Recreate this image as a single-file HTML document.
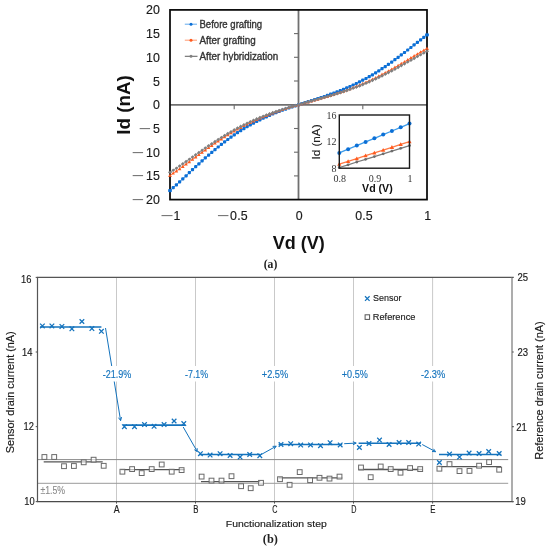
<!DOCTYPE html>
<html><head><meta charset="utf-8"><title>Figure</title>
<style>
html,body{margin:0;padding:0;background:#fff;}
body{width:549px;height:550px;overflow:hidden;}
svg{display:block;}
svg{fill:#1a1a1a;}
text{font-family:"Liberation Sans",sans-serif;}
.ser{font-family:"Liberation Serif",serif;}
#chartB text{stroke:#1a1a1a;stroke-width:0.15px;}
#chartB text.bl{stroke:#1473bd;}
#chartB text.gy{stroke:#8a8a8a;stroke-width:0.1px;}
#chartB text.ser{stroke:none;}
</style></head><body>
<svg width="549" height="550" viewBox="0 0 549 550">
<rect width="549" height="550" fill="#fff"/>

<g id="chartA">
<line x1="170.0" y1="104.8" x2="427.0" y2="104.8" stroke="#707070" stroke-width="1.8"/>
<line x1="298.5" y1="9.9" x2="298.5" y2="199.6" stroke="#707070" stroke-width="1.8"/>
<line x1="294.0" y1="33.6" x2="298.5" y2="33.6" stroke="#6b6b6b" stroke-width="1.1"/>
<line x1="294.0" y1="57.3" x2="298.5" y2="57.3" stroke="#6b6b6b" stroke-width="1.1"/>
<line x1="294.0" y1="81.0" x2="298.5" y2="81.0" stroke="#6b6b6b" stroke-width="1.1"/>
<line x1="294.0" y1="128.5" x2="298.5" y2="128.5" stroke="#6b6b6b" stroke-width="1.1"/>
<line x1="294.0" y1="152.2" x2="298.5" y2="152.2" stroke="#6b6b6b" stroke-width="1.1"/>
<line x1="294.0" y1="175.9" x2="298.5" y2="175.9" stroke="#6b6b6b" stroke-width="1.1"/>
<line x1="234.2" y1="104.8" x2="234.2" y2="109.2" stroke="#6b6b6b" stroke-width="1.1"/>
<line x1="362.8" y1="104.8" x2="362.8" y2="109.2" stroke="#6b6b6b" stroke-width="1.1"/>
<polyline points="170.0,190.6 173.2,187.7 176.4,184.8 179.6,181.8 182.8,178.8 186.1,175.8 189.3,172.7 192.5,169.7 195.7,166.7 198.9,163.8 202.1,160.8 205.3,157.9 208.6,155.1 211.8,152.3 215.0,149.6 218.2,147.0 221.4,144.4 224.6,141.9 227.8,139.5 231.0,137.2 234.2,134.9 237.5,132.7 240.7,130.6 243.9,128.6 247.1,126.7 250.3,124.9 253.5,123.1 256.7,121.4 259.9,119.8 263.2,118.2 266.4,116.8 269.6,115.3 272.8,114.0 276.0,112.7 279.2,111.4 282.4,110.2 285.6,109.1 288.9,108.0 292.1,106.9 295.3,105.8 298.5,104.8 301.7,103.7 304.9,102.7 308.1,101.7 311.4,100.7 314.6,99.6 317.8,98.6 321.0,97.6 324.2,96.5 327.4,95.4 330.6,94.2 333.8,93.1 337.1,91.9 340.3,90.6 343.5,89.3 346.7,87.9 349.9,86.5 353.1,85.0 356.3,83.5 359.5,81.9 362.8,80.2 366.0,78.5 369.2,76.6 372.4,74.8 375.6,72.8 378.8,70.8 382.0,68.7 385.2,66.6 388.4,64.3 391.7,62.1 394.9,59.7 398.1,57.4 401.3,54.9 404.5,52.5 407.7,50.0 410.9,47.5 414.1,44.9 417.4,42.4 420.6,39.8 423.8,37.3 427.0,34.8" fill="none" stroke="#0b6fd6" stroke-width="1" opacity="0.8"/>
<rect x="168.4" y="189.0" width="3.2" height="3.2" rx="1.0" fill="#0b6fd6"/>
<rect x="171.6" y="186.1" width="3.2" height="3.2" rx="1.0" fill="#0b6fd6"/>
<rect x="174.8" y="183.2" width="3.2" height="3.2" rx="1.0" fill="#0b6fd6"/>
<rect x="178.0" y="180.2" width="3.2" height="3.2" rx="1.0" fill="#0b6fd6"/>
<rect x="181.2" y="177.2" width="3.2" height="3.2" rx="1.0" fill="#0b6fd6"/>
<rect x="184.5" y="174.2" width="3.2" height="3.2" rx="1.0" fill="#0b6fd6"/>
<rect x="187.7" y="171.1" width="3.2" height="3.2" rx="1.0" fill="#0b6fd6"/>
<rect x="190.9" y="168.1" width="3.2" height="3.2" rx="1.0" fill="#0b6fd6"/>
<rect x="194.1" y="165.1" width="3.2" height="3.2" rx="1.0" fill="#0b6fd6"/>
<rect x="197.3" y="162.2" width="3.2" height="3.2" rx="1.0" fill="#0b6fd6"/>
<rect x="200.5" y="159.2" width="3.2" height="3.2" rx="1.0" fill="#0b6fd6"/>
<rect x="203.7" y="156.3" width="3.2" height="3.2" rx="1.0" fill="#0b6fd6"/>
<rect x="207.0" y="153.5" width="3.2" height="3.2" rx="1.0" fill="#0b6fd6"/>
<rect x="210.2" y="150.7" width="3.2" height="3.2" rx="1.0" fill="#0b6fd6"/>
<rect x="213.4" y="148.0" width="3.2" height="3.2" rx="1.0" fill="#0b6fd6"/>
<rect x="216.6" y="145.4" width="3.2" height="3.2" rx="1.0" fill="#0b6fd6"/>
<rect x="219.8" y="142.8" width="3.2" height="3.2" rx="1.0" fill="#0b6fd6"/>
<rect x="223.0" y="140.3" width="3.2" height="3.2" rx="1.0" fill="#0b6fd6"/>
<rect x="226.2" y="137.9" width="3.2" height="3.2" rx="1.0" fill="#0b6fd6"/>
<rect x="229.4" y="135.6" width="3.2" height="3.2" rx="1.0" fill="#0b6fd6"/>
<rect x="232.7" y="133.3" width="3.2" height="3.2" rx="1.0" fill="#0b6fd6"/>
<rect x="235.9" y="131.1" width="3.2" height="3.2" rx="1.0" fill="#0b6fd6"/>
<rect x="239.1" y="129.0" width="3.2" height="3.2" rx="1.0" fill="#0b6fd6"/>
<rect x="242.3" y="127.0" width="3.2" height="3.2" rx="1.0" fill="#0b6fd6"/>
<rect x="245.5" y="125.1" width="3.2" height="3.2" rx="1.0" fill="#0b6fd6"/>
<rect x="248.7" y="123.3" width="3.2" height="3.2" rx="1.0" fill="#0b6fd6"/>
<rect x="251.9" y="121.5" width="3.2" height="3.2" rx="1.0" fill="#0b6fd6"/>
<rect x="255.1" y="119.8" width="3.2" height="3.2" rx="1.0" fill="#0b6fd6"/>
<rect x="258.3" y="118.2" width="3.2" height="3.2" rx="1.0" fill="#0b6fd6"/>
<rect x="261.6" y="116.6" width="3.2" height="3.2" rx="1.0" fill="#0b6fd6"/>
<rect x="264.8" y="115.2" width="3.2" height="3.2" rx="1.0" fill="#0b6fd6"/>
<rect x="268.0" y="113.7" width="3.2" height="3.2" rx="1.0" fill="#0b6fd6"/>
<rect x="271.2" y="112.4" width="3.2" height="3.2" rx="1.0" fill="#0b6fd6"/>
<rect x="274.4" y="111.1" width="3.2" height="3.2" rx="1.0" fill="#0b6fd6"/>
<rect x="277.6" y="109.8" width="3.2" height="3.2" rx="1.0" fill="#0b6fd6"/>
<rect x="280.8" y="108.6" width="3.2" height="3.2" rx="1.0" fill="#0b6fd6"/>
<rect x="284.0" y="107.5" width="3.2" height="3.2" rx="1.0" fill="#0b6fd6"/>
<rect x="287.3" y="106.4" width="3.2" height="3.2" rx="1.0" fill="#0b6fd6"/>
<rect x="290.5" y="105.3" width="3.2" height="3.2" rx="1.0" fill="#0b6fd6"/>
<rect x="293.7" y="104.2" width="3.2" height="3.2" rx="1.0" fill="#0b6fd6"/>
<rect x="296.9" y="103.2" width="3.2" height="3.2" rx="1.0" fill="#0b6fd6"/>
<rect x="300.1" y="102.1" width="3.2" height="3.2" rx="1.0" fill="#0b6fd6"/>
<rect x="303.3" y="101.1" width="3.2" height="3.2" rx="1.0" fill="#0b6fd6"/>
<rect x="306.5" y="100.1" width="3.2" height="3.2" rx="1.0" fill="#0b6fd6"/>
<rect x="309.8" y="99.1" width="3.2" height="3.2" rx="1.0" fill="#0b6fd6"/>
<rect x="313.0" y="98.0" width="3.2" height="3.2" rx="1.0" fill="#0b6fd6"/>
<rect x="316.2" y="97.0" width="3.2" height="3.2" rx="1.0" fill="#0b6fd6"/>
<rect x="319.4" y="96.0" width="3.2" height="3.2" rx="1.0" fill="#0b6fd6"/>
<rect x="322.6" y="94.9" width="3.2" height="3.2" rx="1.0" fill="#0b6fd6"/>
<rect x="325.8" y="93.8" width="3.2" height="3.2" rx="1.0" fill="#0b6fd6"/>
<rect x="329.0" y="92.6" width="3.2" height="3.2" rx="1.0" fill="#0b6fd6"/>
<rect x="332.2" y="91.5" width="3.2" height="3.2" rx="1.0" fill="#0b6fd6"/>
<rect x="335.4" y="90.3" width="3.2" height="3.2" rx="1.0" fill="#0b6fd6"/>
<rect x="338.7" y="89.0" width="3.2" height="3.2" rx="1.0" fill="#0b6fd6"/>
<rect x="341.9" y="87.7" width="3.2" height="3.2" rx="1.0" fill="#0b6fd6"/>
<rect x="345.1" y="86.3" width="3.2" height="3.2" rx="1.0" fill="#0b6fd6"/>
<rect x="348.3" y="84.9" width="3.2" height="3.2" rx="1.0" fill="#0b6fd6"/>
<rect x="351.5" y="83.4" width="3.2" height="3.2" rx="1.0" fill="#0b6fd6"/>
<rect x="354.7" y="81.9" width="3.2" height="3.2" rx="1.0" fill="#0b6fd6"/>
<rect x="357.9" y="80.3" width="3.2" height="3.2" rx="1.0" fill="#0b6fd6"/>
<rect x="361.1" y="78.6" width="3.2" height="3.2" rx="1.0" fill="#0b6fd6"/>
<rect x="364.4" y="76.9" width="3.2" height="3.2" rx="1.0" fill="#0b6fd6"/>
<rect x="367.6" y="75.0" width="3.2" height="3.2" rx="1.0" fill="#0b6fd6"/>
<rect x="370.8" y="73.2" width="3.2" height="3.2" rx="1.0" fill="#0b6fd6"/>
<rect x="374.0" y="71.2" width="3.2" height="3.2" rx="1.0" fill="#0b6fd6"/>
<rect x="377.2" y="69.2" width="3.2" height="3.2" rx="1.0" fill="#0b6fd6"/>
<rect x="380.4" y="67.1" width="3.2" height="3.2" rx="1.0" fill="#0b6fd6"/>
<rect x="383.6" y="65.0" width="3.2" height="3.2" rx="1.0" fill="#0b6fd6"/>
<rect x="386.8" y="62.7" width="3.2" height="3.2" rx="1.0" fill="#0b6fd6"/>
<rect x="390.1" y="60.5" width="3.2" height="3.2" rx="1.0" fill="#0b6fd6"/>
<rect x="393.3" y="58.1" width="3.2" height="3.2" rx="1.0" fill="#0b6fd6"/>
<rect x="396.5" y="55.8" width="3.2" height="3.2" rx="1.0" fill="#0b6fd6"/>
<rect x="399.7" y="53.3" width="3.2" height="3.2" rx="1.0" fill="#0b6fd6"/>
<rect x="402.9" y="50.9" width="3.2" height="3.2" rx="1.0" fill="#0b6fd6"/>
<rect x="406.1" y="48.4" width="3.2" height="3.2" rx="1.0" fill="#0b6fd6"/>
<rect x="409.3" y="45.9" width="3.2" height="3.2" rx="1.0" fill="#0b6fd6"/>
<rect x="412.5" y="43.3" width="3.2" height="3.2" rx="1.0" fill="#0b6fd6"/>
<rect x="415.8" y="40.8" width="3.2" height="3.2" rx="1.0" fill="#0b6fd6"/>
<rect x="419.0" y="38.2" width="3.2" height="3.2" rx="1.0" fill="#0b6fd6"/>
<rect x="422.2" y="35.7" width="3.2" height="3.2" rx="1.0" fill="#0b6fd6"/>
<rect x="425.4" y="33.2" width="3.2" height="3.2" rx="1.0" fill="#0b6fd6"/>
<polyline points="170.0,175.4 173.2,173.2 176.4,171.0 179.6,168.7 182.8,166.4 186.1,164.1 189.3,161.7 192.5,159.4 195.7,157.0 198.9,154.6 202.1,152.3 205.3,150.0 208.6,147.7 211.8,145.4 215.0,143.2 218.2,141.1 221.4,138.9 224.6,136.9 227.8,134.9 231.0,132.9 234.2,131.0 237.5,129.2 240.7,127.4 243.9,125.7 247.1,124.1 250.3,122.5 253.5,121.0 256.7,119.5 259.9,118.1 263.2,116.8 266.4,115.5 269.6,114.2 272.8,113.0 276.0,111.9 279.2,110.7 282.4,109.7 285.6,108.6 288.9,107.6 292.1,106.6 295.3,105.7 298.5,104.8 301.7,103.8 304.9,102.9 308.1,102.0 311.4,101.1 314.6,100.2 317.8,99.3 321.0,98.3 324.2,97.4 327.4,96.4 330.6,95.5 333.8,94.5 337.1,93.4 340.3,92.3 343.5,91.2 346.7,90.1 349.9,88.9 353.1,87.7 356.3,86.4 359.5,85.1 362.8,83.7 366.0,82.3 369.2,80.8 372.4,79.3 375.6,77.8 378.8,76.1 382.0,74.5 385.2,72.8 388.4,71.0 391.7,69.2 394.9,67.4 398.1,65.6 401.3,63.7 404.5,61.8 407.7,59.9 410.9,57.9 414.1,56.0 417.4,54.1 420.6,52.1 423.8,50.3 427.0,48.4" fill="none" stroke="#ff5a1e" stroke-width="1" opacity="0.8"/>
<path d="M168.3 176.8L171.7 176.8L170.0 173.5Z" fill="#ff5a1e"/>
<path d="M171.5 174.6L174.9 174.6L173.2 171.3Z" fill="#ff5a1e"/>
<path d="M174.7 172.4L178.2 172.4L176.4 169.1Z" fill="#ff5a1e"/>
<path d="M177.9 170.2L181.4 170.2L179.6 166.9Z" fill="#ff5a1e"/>
<path d="M181.1 167.9L184.6 167.9L182.8 164.6Z" fill="#ff5a1e"/>
<path d="M184.3 165.5L187.8 165.5L186.1 162.2Z" fill="#ff5a1e"/>
<path d="M187.6 163.2L191.0 163.2L189.3 159.9Z" fill="#ff5a1e"/>
<path d="M190.8 160.8L194.2 160.8L192.5 157.5Z" fill="#ff5a1e"/>
<path d="M194.0 158.4L197.4 158.4L195.7 155.1Z" fill="#ff5a1e"/>
<path d="M197.2 156.1L200.6 156.1L198.9 152.8Z" fill="#ff5a1e"/>
<path d="M200.4 153.7L203.8 153.7L202.1 150.4Z" fill="#ff5a1e"/>
<path d="M203.6 151.4L207.1 151.4L205.3 148.1Z" fill="#ff5a1e"/>
<path d="M206.8 149.1L210.3 149.1L208.6 145.8Z" fill="#ff5a1e"/>
<path d="M210.0 146.9L213.5 146.9L211.8 143.6Z" fill="#ff5a1e"/>
<path d="M213.2 144.6L216.7 144.6L215.0 141.3Z" fill="#ff5a1e"/>
<path d="M216.5 142.5L219.9 142.5L218.2 139.2Z" fill="#ff5a1e"/>
<path d="M219.7 140.4L223.1 140.4L221.4 137.1Z" fill="#ff5a1e"/>
<path d="M222.9 138.3L226.3 138.3L224.6 135.0Z" fill="#ff5a1e"/>
<path d="M226.1 136.3L229.5 136.3L227.8 133.0Z" fill="#ff5a1e"/>
<path d="M229.3 134.3L232.8 134.3L231.0 131.0Z" fill="#ff5a1e"/>
<path d="M232.5 132.4L236.0 132.4L234.2 129.1Z" fill="#ff5a1e"/>
<path d="M235.7 130.6L239.2 130.6L237.5 127.3Z" fill="#ff5a1e"/>
<path d="M239.0 128.9L242.4 128.9L240.7 125.6Z" fill="#ff5a1e"/>
<path d="M242.2 127.1L245.6 127.1L243.9 123.8Z" fill="#ff5a1e"/>
<path d="M245.4 125.5L248.8 125.5L247.1 122.2Z" fill="#ff5a1e"/>
<path d="M248.6 123.9L252.0 123.9L250.3 120.6Z" fill="#ff5a1e"/>
<path d="M251.8 122.4L255.2 122.4L253.5 119.1Z" fill="#ff5a1e"/>
<path d="M255.0 120.9L258.5 120.9L256.7 117.6Z" fill="#ff5a1e"/>
<path d="M258.2 119.5L261.7 119.5L259.9 116.2Z" fill="#ff5a1e"/>
<path d="M261.4 118.2L264.9 118.2L263.2 114.9Z" fill="#ff5a1e"/>
<path d="M264.6 116.9L268.1 116.9L266.4 113.6Z" fill="#ff5a1e"/>
<path d="M267.9 115.6L271.3 115.6L269.6 112.3Z" fill="#ff5a1e"/>
<path d="M271.1 114.4L274.5 114.4L272.8 111.1Z" fill="#ff5a1e"/>
<path d="M274.3 113.3L277.7 113.3L276.0 110.0Z" fill="#ff5a1e"/>
<path d="M277.5 112.2L281.0 112.2L279.2 108.9Z" fill="#ff5a1e"/>
<path d="M280.7 111.1L284.2 111.1L282.4 107.8Z" fill="#ff5a1e"/>
<path d="M283.9 110.1L287.4 110.1L285.6 106.8Z" fill="#ff5a1e"/>
<path d="M287.1 109.1L290.6 109.1L288.9 105.8Z" fill="#ff5a1e"/>
<path d="M290.3 108.1L293.8 108.1L292.1 104.8Z" fill="#ff5a1e"/>
<path d="M293.6 107.1L297.0 107.1L295.3 103.8Z" fill="#ff5a1e"/>
<path d="M296.8 106.2L300.2 106.2L298.5 102.9Z" fill="#ff5a1e"/>
<path d="M300.0 105.2L303.4 105.2L301.7 101.9Z" fill="#ff5a1e"/>
<path d="M303.2 104.3L306.7 104.3L304.9 101.0Z" fill="#ff5a1e"/>
<path d="M306.4 103.4L309.9 103.4L308.1 100.1Z" fill="#ff5a1e"/>
<path d="M309.6 102.5L313.1 102.5L311.4 99.2Z" fill="#ff5a1e"/>
<path d="M312.8 101.6L316.3 101.6L314.6 98.3Z" fill="#ff5a1e"/>
<path d="M316.0 100.7L319.5 100.7L317.8 97.4Z" fill="#ff5a1e"/>
<path d="M319.3 99.8L322.7 99.8L321.0 96.5Z" fill="#ff5a1e"/>
<path d="M322.5 98.8L325.9 98.8L324.2 95.5Z" fill="#ff5a1e"/>
<path d="M325.7 97.9L329.1 97.9L327.4 94.6Z" fill="#ff5a1e"/>
<path d="M328.9 96.9L332.4 96.9L330.6 93.6Z" fill="#ff5a1e"/>
<path d="M332.1 95.9L335.6 95.9L333.8 92.6Z" fill="#ff5a1e"/>
<path d="M335.3 94.8L338.8 94.8L337.1 91.5Z" fill="#ff5a1e"/>
<path d="M338.5 93.8L342.0 93.8L340.3 90.5Z" fill="#ff5a1e"/>
<path d="M341.8 92.7L345.2 92.7L343.5 89.4Z" fill="#ff5a1e"/>
<path d="M345.0 91.5L348.4 91.5L346.7 88.2Z" fill="#ff5a1e"/>
<path d="M348.2 90.3L351.6 90.3L349.9 87.0Z" fill="#ff5a1e"/>
<path d="M351.4 89.1L354.8 89.1L353.1 85.8Z" fill="#ff5a1e"/>
<path d="M354.6 87.8L358.1 87.8L356.3 84.5Z" fill="#ff5a1e"/>
<path d="M357.8 86.5L361.3 86.5L359.5 83.2Z" fill="#ff5a1e"/>
<path d="M361.0 85.1L364.5 85.1L362.8 81.8Z" fill="#ff5a1e"/>
<path d="M364.2 83.7L367.7 83.7L366.0 80.4Z" fill="#ff5a1e"/>
<path d="M367.4 82.3L370.9 82.3L369.2 79.0Z" fill="#ff5a1e"/>
<path d="M370.7 80.7L374.1 80.7L372.4 77.4Z" fill="#ff5a1e"/>
<path d="M373.9 79.2L377.3 79.2L375.6 75.9Z" fill="#ff5a1e"/>
<path d="M377.1 77.6L380.5 77.6L378.8 74.3Z" fill="#ff5a1e"/>
<path d="M380.3 75.9L383.8 75.9L382.0 72.6Z" fill="#ff5a1e"/>
<path d="M383.5 74.2L387.0 74.2L385.2 70.9Z" fill="#ff5a1e"/>
<path d="M386.7 72.5L390.2 72.5L388.4 69.2Z" fill="#ff5a1e"/>
<path d="M389.9 70.7L393.4 70.7L391.7 67.4Z" fill="#ff5a1e"/>
<path d="M393.1 68.8L396.6 68.8L394.9 65.5Z" fill="#ff5a1e"/>
<path d="M396.4 67.0L399.8 67.0L398.1 63.7Z" fill="#ff5a1e"/>
<path d="M399.6 65.1L403.0 65.1L401.3 61.8Z" fill="#ff5a1e"/>
<path d="M402.8 63.2L406.2 63.2L404.5 59.9Z" fill="#ff5a1e"/>
<path d="M406.0 61.3L409.5 61.3L407.7 58.0Z" fill="#ff5a1e"/>
<path d="M409.2 59.3L412.7 59.3L410.9 56.0Z" fill="#ff5a1e"/>
<path d="M412.4 57.4L415.9 57.4L414.1 54.1Z" fill="#ff5a1e"/>
<path d="M415.6 55.5L419.1 55.5L417.4 52.2Z" fill="#ff5a1e"/>
<path d="M418.8 53.6L422.3 53.6L420.6 50.3Z" fill="#ff5a1e"/>
<path d="M422.1 51.7L425.5 51.7L423.8 48.4Z" fill="#ff5a1e"/>
<path d="M425.3 49.8L428.7 49.8L427.0 46.5Z" fill="#ff5a1e"/>
<polyline points="170.0,172.3 173.2,170.3 176.4,168.2 179.6,166.0 182.8,163.8 186.1,161.5 189.3,159.3 192.5,157.0 195.7,154.8 198.9,152.5 202.1,150.3 205.3,148.0 208.6,145.8 211.8,143.7 215.0,141.6 218.2,139.5 221.4,137.5 224.6,135.5 227.8,133.6 231.0,131.7 234.2,129.9 237.5,128.1 240.7,126.5 243.9,124.8 247.1,123.2 250.3,121.7 253.5,120.3 256.7,118.9 259.9,117.5 263.2,116.2 266.4,115.0 269.6,113.8 272.8,112.7 276.0,111.6 279.2,110.5 282.4,109.5 285.6,108.5 288.9,107.5 292.1,106.6 295.3,105.6 298.5,104.8 301.7,103.8 304.9,102.8 308.1,101.9 311.4,101.0 314.6,100.1 317.8,99.2 321.0,98.3 324.2,97.4 327.4,96.5 330.6,95.6 333.8,94.7 337.1,93.7 340.3,92.7 343.5,91.6 346.7,90.6 349.9,89.4 353.1,88.3 356.3,87.1 359.5,85.9 362.8,84.6 366.0,83.2 369.2,81.8 372.4,80.4 375.6,78.9 378.8,77.4 382.0,75.9 385.2,74.2 388.4,72.6 391.7,70.9 394.9,69.2 398.1,67.4 401.3,65.6 404.5,63.8 407.7,62.0 410.9,60.2 414.1,58.4 417.4,56.5 420.6,54.7 423.8,52.9 427.0,51.2" fill="none" stroke="#808080" stroke-width="1" opacity="0.8"/>
<path d="M168.2 172.3L170.0 170.5L171.8 172.3L170.0 174.1Z" fill="#808080"/>
<path d="M171.4 170.3L173.2 168.5L175.0 170.3L173.2 172.1Z" fill="#808080"/>
<path d="M174.6 168.2L176.4 166.4L178.2 168.2L176.4 170.0Z" fill="#808080"/>
<path d="M177.8 166.0L179.6 164.2L181.4 166.0L179.6 167.8Z" fill="#808080"/>
<path d="M181.0 163.8L182.8 162.0L184.7 163.8L182.8 165.6Z" fill="#808080"/>
<path d="M184.2 161.5L186.1 159.7L187.9 161.5L186.1 163.4Z" fill="#808080"/>
<path d="M187.5 159.3L189.3 157.5L191.1 159.3L189.3 161.1Z" fill="#808080"/>
<path d="M190.7 157.0L192.5 155.2L194.3 157.0L192.5 158.8Z" fill="#808080"/>
<path d="M193.9 154.8L195.7 152.9L197.5 154.8L195.7 156.6Z" fill="#808080"/>
<path d="M197.1 152.5L198.9 150.7L200.7 152.5L198.9 154.3Z" fill="#808080"/>
<path d="M200.3 150.3L202.1 148.4L203.9 150.3L202.1 152.1Z" fill="#808080"/>
<path d="M203.5 148.0L205.3 146.2L207.2 148.0L205.3 149.8Z" fill="#808080"/>
<path d="M206.7 145.8L208.6 144.0L210.4 145.8L208.6 147.7Z" fill="#808080"/>
<path d="M209.9 143.7L211.8 141.9L213.6 143.7L211.8 145.5Z" fill="#808080"/>
<path d="M213.2 141.6L215.0 139.8L216.8 141.6L215.0 143.4Z" fill="#808080"/>
<path d="M216.4 139.5L218.2 137.7L220.0 139.5L218.2 141.3Z" fill="#808080"/>
<path d="M219.6 137.5L221.4 135.7L223.2 137.5L221.4 139.3Z" fill="#808080"/>
<path d="M222.8 135.5L224.6 133.7L226.4 135.5L224.6 137.3Z" fill="#808080"/>
<path d="M226.0 133.6L227.8 131.8L229.6 133.6L227.8 135.4Z" fill="#808080"/>
<path d="M229.2 131.7L231.0 129.9L232.8 131.7L231.0 133.5Z" fill="#808080"/>
<path d="M232.4 129.9L234.2 128.1L236.1 129.9L234.2 131.7Z" fill="#808080"/>
<path d="M235.7 128.1L237.5 126.3L239.3 128.1L237.5 130.0Z" fill="#808080"/>
<path d="M238.9 126.5L240.7 124.6L242.5 126.5L240.7 128.3Z" fill="#808080"/>
<path d="M242.1 124.8L243.9 123.0L245.7 124.8L243.9 126.6Z" fill="#808080"/>
<path d="M245.3 123.2L247.1 121.4L248.9 123.2L247.1 125.1Z" fill="#808080"/>
<path d="M248.5 121.7L250.3 119.9L252.1 121.7L250.3 123.5Z" fill="#808080"/>
<path d="M251.7 120.3L253.5 118.5L255.3 120.3L253.5 122.1Z" fill="#808080"/>
<path d="M254.9 118.9L256.7 117.1L258.6 118.9L256.7 120.7Z" fill="#808080"/>
<path d="M258.1 117.5L259.9 115.7L261.8 117.5L259.9 119.3Z" fill="#808080"/>
<path d="M261.4 116.2L263.2 114.4L265.0 116.2L263.2 118.0Z" fill="#808080"/>
<path d="M264.6 115.0L266.4 113.2L268.2 115.0L266.4 116.8Z" fill="#808080"/>
<path d="M267.8 113.8L269.6 112.0L271.4 113.8L269.6 115.6Z" fill="#808080"/>
<path d="M271.0 112.7L272.8 110.8L274.6 112.7L272.8 114.5Z" fill="#808080"/>
<path d="M274.2 111.6L276.0 109.7L277.8 111.6L276.0 113.4Z" fill="#808080"/>
<path d="M277.4 110.5L279.2 108.7L281.0 110.5L279.2 112.3Z" fill="#808080"/>
<path d="M280.6 109.5L282.4 107.7L284.2 109.5L282.4 111.3Z" fill="#808080"/>
<path d="M283.8 108.5L285.6 106.7L287.5 108.5L285.6 110.3Z" fill="#808080"/>
<path d="M287.1 107.5L288.9 105.7L290.7 107.5L288.9 109.3Z" fill="#808080"/>
<path d="M290.3 106.6L292.1 104.8L293.9 106.6L292.1 108.4Z" fill="#808080"/>
<path d="M293.5 105.6L295.3 103.8L297.1 105.6L295.3 107.5Z" fill="#808080"/>
<path d="M296.7 104.8L298.5 102.9L300.3 104.8L298.5 106.6Z" fill="#808080"/>
<path d="M299.9 103.8L301.7 102.0L303.5 103.8L301.7 105.6Z" fill="#808080"/>
<path d="M303.1 102.8L304.9 101.0L306.7 102.8L304.9 104.6Z" fill="#808080"/>
<path d="M306.3 101.9L308.1 100.1L309.9 101.9L308.1 103.7Z" fill="#808080"/>
<path d="M309.5 101.0L311.4 99.2L313.2 101.0L311.4 102.8Z" fill="#808080"/>
<path d="M312.8 100.1L314.6 98.3L316.4 100.1L314.6 101.9Z" fill="#808080"/>
<path d="M316.0 99.2L317.8 97.4L319.6 99.2L317.8 101.0Z" fill="#808080"/>
<path d="M319.2 98.3L321.0 96.5L322.8 98.3L321.0 100.2Z" fill="#808080"/>
<path d="M322.4 97.4L324.2 95.6L326.0 97.4L324.2 99.3Z" fill="#808080"/>
<path d="M325.6 96.5L327.4 94.7L329.2 96.5L327.4 98.3Z" fill="#808080"/>
<path d="M328.8 95.6L330.6 93.8L332.4 95.6L330.6 97.4Z" fill="#808080"/>
<path d="M332.0 94.7L333.8 92.8L335.6 94.7L333.8 96.5Z" fill="#808080"/>
<path d="M335.2 93.7L337.1 91.9L338.9 93.7L337.1 95.5Z" fill="#808080"/>
<path d="M338.4 92.7L340.3 90.9L342.1 92.7L340.3 94.5Z" fill="#808080"/>
<path d="M341.7 91.6L343.5 89.8L345.3 91.6L343.5 93.4Z" fill="#808080"/>
<path d="M344.9 90.6L346.7 88.7L348.5 90.6L346.7 92.4Z" fill="#808080"/>
<path d="M348.1 89.4L349.9 87.6L351.7 89.4L349.9 91.3Z" fill="#808080"/>
<path d="M351.3 88.3L353.1 86.5L354.9 88.3L353.1 90.1Z" fill="#808080"/>
<path d="M354.5 87.1L356.3 85.3L358.1 87.1L356.3 88.9Z" fill="#808080"/>
<path d="M357.7 85.9L359.5 84.0L361.4 85.9L359.5 87.7Z" fill="#808080"/>
<path d="M360.9 84.6L362.8 82.8L364.6 84.6L362.8 86.4Z" fill="#808080"/>
<path d="M364.1 83.2L366.0 81.4L367.8 83.2L366.0 85.0Z" fill="#808080"/>
<path d="M367.4 81.8L369.2 80.0L371.0 81.8L369.2 83.7Z" fill="#808080"/>
<path d="M370.6 80.4L372.4 78.6L374.2 80.4L372.4 82.2Z" fill="#808080"/>
<path d="M373.8 78.9L375.6 77.1L377.4 78.9L375.6 80.8Z" fill="#808080"/>
<path d="M377.0 77.4L378.8 75.6L380.6 77.4L378.8 79.2Z" fill="#808080"/>
<path d="M380.2 75.9L382.0 74.0L383.8 75.9L382.0 77.7Z" fill="#808080"/>
<path d="M383.4 74.2L385.2 72.4L387.1 74.2L385.2 76.1Z" fill="#808080"/>
<path d="M386.6 72.6L388.4 70.8L390.3 72.6L388.4 74.4Z" fill="#808080"/>
<path d="M389.9 70.9L391.7 69.1L393.5 70.9L391.7 72.7Z" fill="#808080"/>
<path d="M393.1 69.2L394.9 67.4L396.7 69.2L394.9 71.0Z" fill="#808080"/>
<path d="M396.3 67.4L398.1 65.6L399.9 67.4L398.1 69.2Z" fill="#808080"/>
<path d="M399.5 65.6L401.3 63.8L403.1 65.6L401.3 67.5Z" fill="#808080"/>
<path d="M402.7 63.8L404.5 62.0L406.3 63.8L404.5 65.7Z" fill="#808080"/>
<path d="M405.9 62.0L407.7 60.2L409.5 62.0L407.7 63.8Z" fill="#808080"/>
<path d="M409.1 60.2L410.9 58.4L412.8 60.2L410.9 62.0Z" fill="#808080"/>
<path d="M412.3 58.4L414.1 56.5L416.0 58.4L414.1 60.2Z" fill="#808080"/>
<path d="M415.6 56.5L417.4 54.7L419.2 56.5L417.4 58.3Z" fill="#808080"/>
<path d="M418.8 54.7L420.6 52.9L422.4 54.7L420.6 56.5Z" fill="#808080"/>
<path d="M422.0 52.9L423.8 51.1L425.6 52.9L423.8 54.7Z" fill="#808080"/>
<path d="M425.2 51.2L427.0 49.4L428.8 51.2L427.0 53.0Z" fill="#808080"/>
<rect x="170.0" y="9.9" width="257.0" height="189.7" fill="none" stroke="#0a0a0a" stroke-width="1.75"/>
<rect x="168.4" y="189.0" width="3.2" height="3.2" rx="1.0" fill="#0b6fd6"/>
<rect x="425.4" y="33.2" width="3.2" height="3.2" rx="1.0" fill="#0b6fd6"/>
<path d="M168.3 176.8L171.7 176.8L170.0 173.5Z" fill="#ff5a1e"/>
<path d="M425.3 49.8L428.7 49.8L427.0 46.5Z" fill="#ff5a1e"/>
<path d="M168.2 172.3L170.0 170.5L171.8 172.3L170.0 174.1Z" fill="#808080"/>
<path d="M425.2 51.2L427.0 49.4L428.8 51.2L427.0 53.0Z" fill="#808080"/>
<text x="159.8" y="14.4" font-size="12.4" text-anchor="end" stroke="#1a1a1a" stroke-width="0.15">20</text>
<text x="159.8" y="38.1" font-size="12.4" text-anchor="end" stroke="#1a1a1a" stroke-width="0.15">15</text>
<text x="159.8" y="61.8" font-size="12.4" text-anchor="end" stroke="#1a1a1a" stroke-width="0.15">10</text>
<text x="159.8" y="85.5" font-size="12.4" text-anchor="end" stroke="#1a1a1a" stroke-width="0.15">5</text>
<text x="159.8" y="109.2" font-size="12.4" text-anchor="end" stroke="#1a1a1a" stroke-width="0.15">0</text>
<text x="159.8" y="133.0" font-size="12.4" text-anchor="end" stroke="#1a1a1a" stroke-width="0.15">5</text>
<text transform="translate(138.25,133.0) scale(1.726,1)" font-size="12.4" fill="#555">−</text>
<text x="159.8" y="156.7" font-size="12.4" text-anchor="end" stroke="#1a1a1a" stroke-width="0.15">10</text>
<text transform="translate(131.35,156.7) scale(1.726,1)" font-size="12.4" fill="#555">−</text>
<text x="159.8" y="180.4" font-size="12.4" text-anchor="end" stroke="#1a1a1a" stroke-width="0.15">15</text>
<text transform="translate(131.35,180.4) scale(1.726,1)" font-size="12.4" fill="#555">−</text>
<text x="159.8" y="204.1" font-size="12.4" text-anchor="end" stroke="#1a1a1a" stroke-width="0.15">20</text>
<text transform="translate(131.35,204.1) scale(1.726,1)" font-size="12.4" fill="#555">−</text>
<text transform="translate(159.89,219.8) scale(1.825,1)" font-size="12.4" fill="#555">−</text>
<text x="173.4" y="219.8" font-size="12.4" stroke="#1a1a1a" stroke-width="0.15">1</text>
<text transform="translate(216.44,219.8) scale(1.742,1)" font-size="12.4" fill="#555">−</text>
<text x="230.1" y="219.8" font-size="12.4" stroke="#1a1a1a" stroke-width="0.15" letter-spacing="0.15">0.5</text>
<text x="299.2" y="219.8" font-size="12.4" text-anchor="middle" stroke="#1a1a1a" stroke-width="0.15">0</text>
<text x="355.2" y="219.8" font-size="12.4" stroke="#1a1a1a" stroke-width="0.15" letter-spacing="0.15">0.5</text>
<text x="427.6" y="219.8" font-size="12.4" text-anchor="middle" stroke="#1a1a1a" stroke-width="0.15">1</text>
<text x="298.7" y="248.8" font-size="18" font-weight="bold" text-anchor="middle" fill="#111">Vd (V)</text>
<text transform="translate(130.2,105) rotate(-90)" font-size="18.8" font-weight="bold" text-anchor="middle" fill="#111">Id (nA)</text>
<line x1="184.8" y1="24.2" x2="197" y2="24.2" stroke="#6fb1ee" stroke-width="1.1"/>
<circle cx="191" cy="24.2" r="1.5" fill="#0b6fd6"/>
<text x="199.5" y="27.8" font-size="10" textLength="62.7" lengthAdjust="spacingAndGlyphs" fill="#333" stroke="#333" stroke-width="0.35">Before grafting</text>
<line x1="184.8" y1="40.2" x2="197" y2="40.2" stroke="#ffa27d" stroke-width="1.1"/>
<circle cx="191" cy="40.2" r="1.5" fill="#ff5a1e"/>
<text x="199.5" y="43.8" font-size="10" textLength="56.2" lengthAdjust="spacingAndGlyphs" fill="#333" stroke="#333" stroke-width="0.35">After grafting</text>
<line x1="184.8" y1="56.3" x2="197.5" y2="56.3" stroke="#6a6a6a" stroke-width="1.1"/>
<circle cx="191" cy="56.3" r="1.5" fill="#808080"/>
<text x="199.5" y="59.9" font-size="10" textLength="78.7" lengthAdjust="spacingAndGlyphs" fill="#333" stroke="#333" stroke-width="0.35">After hybridization</text>
<rect x="308" y="110" width="114" height="87" fill="#fff"/>
<polyline points="339.3,167.5 348.1,164.8 356.8,162.0 365.6,159.3 374.4,156.6 383.2,153.8 391.9,151.1 400.7,148.3 409.5,145.6" fill="none" stroke="#7a7a7a" stroke-width="1.3"/>
<circle cx="339.3" cy="167.5" r="1.4" fill="#6e6e6e"/>
<circle cx="348.1" cy="164.8" r="1.4" fill="#6e6e6e"/>
<circle cx="356.8" cy="162.0" r="1.4" fill="#6e6e6e"/>
<circle cx="365.6" cy="159.3" r="1.4" fill="#6e6e6e"/>
<circle cx="374.4" cy="156.6" r="1.4" fill="#6e6e6e"/>
<circle cx="383.2" cy="153.8" r="1.4" fill="#6e6e6e"/>
<circle cx="391.9" cy="151.1" r="1.4" fill="#6e6e6e"/>
<circle cx="400.7" cy="148.3" r="1.4" fill="#6e6e6e"/>
<circle cx="409.5" cy="145.6" r="1.4" fill="#6e6e6e"/>
<polyline points="339.3,164.2 348.1,161.4 356.8,158.6 365.6,155.7 374.4,152.9 383.2,150.1 391.9,147.3 400.7,144.4 409.5,141.6" fill="none" stroke="#ff7a45" stroke-width="1.3"/>
<path d="M337.2 165.8L341.4 165.8L339.3 162.0Z" fill="#ff5a1e"/>
<path d="M346.0 163.0L350.2 163.0L348.1 159.2Z" fill="#ff5a1e"/>
<path d="M354.7 160.2L358.9 160.2L356.8 156.4Z" fill="#ff5a1e"/>
<path d="M363.5 157.3L367.7 157.3L365.6 153.5Z" fill="#ff5a1e"/>
<path d="M372.3 154.5L376.5 154.5L374.4 150.7Z" fill="#ff5a1e"/>
<path d="M381.1 151.7L385.3 151.7L383.2 147.9Z" fill="#ff5a1e"/>
<path d="M389.8 148.9L394.1 148.9L391.9 145.1Z" fill="#ff5a1e"/>
<path d="M398.6 146.0L402.8 146.0L400.7 142.2Z" fill="#ff5a1e"/>
<path d="M407.4 143.2L411.6 143.2L409.5 139.4Z" fill="#ff5a1e"/>
<polyline points="339.3,152.9 348.1,149.2 356.8,145.6 365.6,141.9 374.4,138.3 383.2,134.6 391.9,131.0 400.7,127.3 409.5,123.6" fill="none" stroke="#3d9be9" stroke-width="1.3"/>
<circle cx="339.3" cy="152.9" r="2.0" fill="#0b6fd6"/>
<circle cx="348.1" cy="149.2" r="2.0" fill="#0b6fd6"/>
<circle cx="356.8" cy="145.6" r="2.0" fill="#0b6fd6"/>
<circle cx="365.6" cy="141.9" r="2.0" fill="#0b6fd6"/>
<circle cx="374.4" cy="138.3" r="2.0" fill="#0b6fd6"/>
<circle cx="383.2" cy="134.6" r="2.0" fill="#0b6fd6"/>
<circle cx="391.9" cy="131.0" r="2.0" fill="#0b6fd6"/>
<circle cx="400.7" cy="127.3" r="2.0" fill="#0b6fd6"/>
<circle cx="409.5" cy="123.6" r="2.0" fill="#0b6fd6"/>
<rect x="339.3" y="115.0" width="70.2" height="53.2" fill="none" stroke="#1a1a1a" stroke-width="1.4"/>
<text class="ser" x="336.4" y="118.6" font-size="10" text-anchor="end" fill="#333">16</text>
<text class="ser" x="336.4" y="145.2" font-size="10" text-anchor="end" fill="#333">12</text>
<text class="ser" x="336.4" y="171.8" font-size="10" text-anchor="end" fill="#333">8</text>
<text class="ser" x="339.8" y="181.5" font-size="10" text-anchor="middle" fill="#333">0.8</text>
<text class="ser" x="374.9" y="181.5" font-size="10" text-anchor="middle" fill="#333">0.9</text>
<text class="ser" x="410.0" y="181.5" font-size="10" text-anchor="middle" fill="#333">1</text>
<text x="377.4" y="192.3" font-size="10.6" font-weight="bold" text-anchor="middle" fill="#111">Vd (V)</text>
<text transform="translate(320.3,142) rotate(-90)" font-size="11.7" text-anchor="middle" fill="#222" stroke="#222" stroke-width="0.12">Id (nA)</text>
<text class="ser" x="270.5" y="268.2" font-size="12.5" font-weight="bold" text-anchor="middle" textLength="13.6" lengthAdjust="spacingAndGlyphs" fill="#222">(a)</text>
</g>
<g id="chartB">
<line x1="116.5" y1="277.4" x2="116.5" y2="501.6" stroke="#c9c9c9" stroke-width="1"/>
<line x1="116.5" y1="501.6" x2="116.5" y2="503.6" stroke="#5a5a5a" stroke-width="1"/>
<line x1="195.5" y1="277.4" x2="195.5" y2="501.6" stroke="#c9c9c9" stroke-width="1"/>
<line x1="195.5" y1="501.6" x2="195.5" y2="503.6" stroke="#5a5a5a" stroke-width="1"/>
<line x1="274.5" y1="277.4" x2="274.5" y2="501.6" stroke="#c9c9c9" stroke-width="1"/>
<line x1="274.5" y1="501.6" x2="274.5" y2="503.6" stroke="#5a5a5a" stroke-width="1"/>
<line x1="353.5" y1="277.4" x2="353.5" y2="501.6" stroke="#c9c9c9" stroke-width="1"/>
<line x1="353.5" y1="501.6" x2="353.5" y2="503.6" stroke="#5a5a5a" stroke-width="1"/>
<line x1="432.6" y1="277.4" x2="432.6" y2="501.6" stroke="#c9c9c9" stroke-width="1"/>
<line x1="432.6" y1="501.6" x2="432.6" y2="503.6" stroke="#5a5a5a" stroke-width="1"/>
<line x1="37.5" y1="459.6" x2="508.2" y2="459.6" stroke="#8a8a8a" stroke-width="1"/>
<line x1="37.5" y1="483.3" x2="508.2" y2="483.3" stroke="#9a9a9a" stroke-width="1"/>
<path d="M37.5 501.6L37.5 277.4L512.0 277.4" fill="none" stroke="#555" stroke-width="1.2"/>
<path d="M512.0 277.4L512.0 501.6" fill="none" stroke="#8a8a8a" stroke-width="1.4"/>
<path d="M36.9 501.6L512.7 501.6" fill="none" stroke="#4a4a4a" stroke-width="1.3"/>
<line x1="35.7" y1="277.4" x2="37.5" y2="277.4" stroke="#5a5a5a" stroke-width="1.1"/>
<line x1="512.0" y1="277.4" x2="513.8" y2="277.4" stroke="#5a5a5a" stroke-width="1.1"/>
<line x1="35.7" y1="352.0" x2="37.5" y2="352.0" stroke="#5a5a5a" stroke-width="1.1"/>
<line x1="512.0" y1="352.0" x2="513.8" y2="352.0" stroke="#5a5a5a" stroke-width="1.1"/>
<line x1="35.7" y1="426.6" x2="37.5" y2="426.6" stroke="#5a5a5a" stroke-width="1.1"/>
<line x1="512.0" y1="426.6" x2="513.8" y2="426.6" stroke="#5a5a5a" stroke-width="1.1"/>
<line x1="35.7" y1="501.6" x2="37.5" y2="501.6" stroke="#5a5a5a" stroke-width="1.1"/>
<line x1="512.0" y1="501.6" x2="513.8" y2="501.6" stroke="#5a5a5a" stroke-width="1.1"/>
<text x="31.5" y="282.6" font-size="10.1" text-anchor="end" textLength="10.4" lengthAdjust="spacingAndGlyphs">16</text>
<text x="32.5" y="355.6" font-size="10.1" text-anchor="end" textLength="10.4" lengthAdjust="spacingAndGlyphs">14</text>
<text x="33.9" y="429.9" font-size="10.1" text-anchor="end" textLength="10.4" lengthAdjust="spacingAndGlyphs">12</text>
<text x="34.6" y="505.1" font-size="10.1" text-anchor="end" textLength="10.4" lengthAdjust="spacingAndGlyphs">10</text>
<text x="517.5" y="281.1" font-size="10.1" textLength="10.6" lengthAdjust="spacingAndGlyphs">25</text>
<text x="517.5" y="356.2" font-size="10.1" textLength="10.6" lengthAdjust="spacingAndGlyphs">23</text>
<text x="516.2" y="430.6" font-size="10.1" textLength="10.6" lengthAdjust="spacingAndGlyphs">21</text>
<text x="515.2" y="505.0" font-size="10.1" textLength="10.6" lengthAdjust="spacingAndGlyphs">19</text>
<text x="116.8" y="512.7" font-size="10" text-anchor="middle" textLength="5.9" lengthAdjust="spacingAndGlyphs">A</text>
<text x="195.8" y="512.7" font-size="10" text-anchor="middle" textLength="5.2" lengthAdjust="spacingAndGlyphs">B</text>
<text x="274.8" y="512.7" font-size="10" text-anchor="middle" textLength="5.2" lengthAdjust="spacingAndGlyphs">C</text>
<text x="353.8" y="512.7" font-size="10" text-anchor="middle" textLength="5.2" lengthAdjust="spacingAndGlyphs">D</text>
<text x="432.9" y="512.7" font-size="10" text-anchor="middle" textLength="5.2" lengthAdjust="spacingAndGlyphs">E</text>
<text x="276.3" y="526.6" font-size="9.8" text-anchor="middle" textLength="101" lengthAdjust="spacingAndGlyphs">Functionalization step</text>
<text transform="translate(14.1,392.3) rotate(-90)" font-size="10.6" text-anchor="middle" textLength="122" lengthAdjust="spacingAndGlyphs">Sensor drain current (nA)</text>
<text transform="translate(543.2,390.5) rotate(-90)" font-size="10.6" text-anchor="middle" textLength="138.5" lengthAdjust="spacingAndGlyphs">Reference drain current (nA)</text>
<text class="ser" x="270.4" y="543" font-size="13" font-weight="bold" text-anchor="middle" textLength="15.1" lengthAdjust="spacingAndGlyphs" fill="#222">(b)</text>
<text x="40.4" y="493.5" font-size="10.6" class="gy" fill="#8a8a8a" textLength="24.7" lengthAdjust="spacingAndGlyphs">±1.5%</text>
<line x1="43.7" y1="461.9" x2="102.7" y2="461.9" stroke="#555" stroke-width="1.3"/>
<rect x="42.0" y="454.6" width="4.8" height="4.8" fill="#fff" fill-opacity="0.6" stroke="#6a6a6a" stroke-width="1"/>
<rect x="51.8" y="454.6" width="4.8" height="4.8" fill="#fff" fill-opacity="0.6" stroke="#6a6a6a" stroke-width="1"/>
<rect x="61.6" y="463.8" width="4.8" height="4.8" fill="#fff" fill-opacity="0.6" stroke="#6a6a6a" stroke-width="1"/>
<rect x="71.5" y="463.6" width="4.8" height="4.8" fill="#fff" fill-opacity="0.6" stroke="#6a6a6a" stroke-width="1"/>
<rect x="81.3" y="459.9" width="4.8" height="4.8" fill="#fff" fill-opacity="0.6" stroke="#6a6a6a" stroke-width="1"/>
<rect x="91.2" y="457.3" width="4.8" height="4.8" fill="#fff" fill-opacity="0.6" stroke="#6a6a6a" stroke-width="1"/>
<rect x="101.3" y="463.4" width="4.8" height="4.8" fill="#fff" fill-opacity="0.6" stroke="#6a6a6a" stroke-width="1"/>
<line x1="121" y1="469.7" x2="184.2" y2="469.7" stroke="#555" stroke-width="1.3"/>
<rect x="120.0" y="469.3" width="4.8" height="4.8" fill="#fff" fill-opacity="0.6" stroke="#6a6a6a" stroke-width="1"/>
<rect x="129.7" y="466.7" width="4.8" height="4.8" fill="#fff" fill-opacity="0.6" stroke="#6a6a6a" stroke-width="1"/>
<rect x="139.3" y="470.7" width="4.8" height="4.8" fill="#fff" fill-opacity="0.6" stroke="#6a6a6a" stroke-width="1"/>
<rect x="149.3" y="466.7" width="4.8" height="4.8" fill="#fff" fill-opacity="0.6" stroke="#6a6a6a" stroke-width="1"/>
<rect x="159.3" y="462.1" width="4.8" height="4.8" fill="#fff" fill-opacity="0.6" stroke="#6a6a6a" stroke-width="1"/>
<rect x="169.3" y="469.3" width="4.8" height="4.8" fill="#fff" fill-opacity="0.6" stroke="#6a6a6a" stroke-width="1"/>
<rect x="179.2" y="467.7" width="4.8" height="4.8" fill="#fff" fill-opacity="0.6" stroke="#6a6a6a" stroke-width="1"/>
<line x1="201" y1="481.6" x2="260.2" y2="481.6" stroke="#555" stroke-width="1.3"/>
<rect x="199.2" y="474.2" width="4.8" height="4.8" fill="#fff" fill-opacity="0.6" stroke="#6a6a6a" stroke-width="1"/>
<rect x="209.1" y="478.2" width="4.8" height="4.8" fill="#fff" fill-opacity="0.6" stroke="#6a6a6a" stroke-width="1"/>
<rect x="219.1" y="478.2" width="4.8" height="4.8" fill="#fff" fill-opacity="0.6" stroke="#6a6a6a" stroke-width="1"/>
<rect x="229.1" y="473.8" width="4.8" height="4.8" fill="#fff" fill-opacity="0.6" stroke="#6a6a6a" stroke-width="1"/>
<rect x="238.7" y="483.8" width="4.8" height="4.8" fill="#fff" fill-opacity="0.6" stroke="#6a6a6a" stroke-width="1"/>
<rect x="248.3" y="485.8" width="4.8" height="4.8" fill="#fff" fill-opacity="0.6" stroke="#6a6a6a" stroke-width="1"/>
<rect x="258.6" y="480.4" width="4.8" height="4.8" fill="#fff" fill-opacity="0.6" stroke="#6a6a6a" stroke-width="1"/>
<line x1="278.6" y1="477.8" x2="342.2" y2="477.8" stroke="#555" stroke-width="1.3"/>
<rect x="277.6" y="476.8" width="4.8" height="4.8" fill="#fff" fill-opacity="0.6" stroke="#6a6a6a" stroke-width="1"/>
<rect x="287.2" y="482.4" width="4.8" height="4.8" fill="#fff" fill-opacity="0.6" stroke="#6a6a6a" stroke-width="1"/>
<rect x="297.3" y="469.7" width="4.8" height="4.8" fill="#fff" fill-opacity="0.6" stroke="#6a6a6a" stroke-width="1"/>
<rect x="307.7" y="477.8" width="4.8" height="4.8" fill="#fff" fill-opacity="0.6" stroke="#6a6a6a" stroke-width="1"/>
<rect x="317.1" y="475.4" width="4.8" height="4.8" fill="#fff" fill-opacity="0.6" stroke="#6a6a6a" stroke-width="1"/>
<rect x="327.1" y="476.2" width="4.8" height="4.8" fill="#fff" fill-opacity="0.6" stroke="#6a6a6a" stroke-width="1"/>
<rect x="337.1" y="474.2" width="4.8" height="4.8" fill="#fff" fill-opacity="0.6" stroke="#6a6a6a" stroke-width="1"/>
<line x1="358.6" y1="469.5" x2="422.2" y2="469.5" stroke="#555" stroke-width="1.3"/>
<rect x="358.6" y="465.1" width="4.8" height="4.8" fill="#fff" fill-opacity="0.6" stroke="#6a6a6a" stroke-width="1"/>
<rect x="368.3" y="474.8" width="4.8" height="4.8" fill="#fff" fill-opacity="0.6" stroke="#6a6a6a" stroke-width="1"/>
<rect x="378.3" y="464.1" width="4.8" height="4.8" fill="#fff" fill-opacity="0.6" stroke="#6a6a6a" stroke-width="1"/>
<rect x="388.3" y="466.7" width="4.8" height="4.8" fill="#fff" fill-opacity="0.6" stroke="#6a6a6a" stroke-width="1"/>
<rect x="398.1" y="470.3" width="4.8" height="4.8" fill="#fff" fill-opacity="0.6" stroke="#6a6a6a" stroke-width="1"/>
<rect x="407.7" y="465.7" width="4.8" height="4.8" fill="#fff" fill-opacity="0.6" stroke="#6a6a6a" stroke-width="1"/>
<rect x="417.8" y="466.7" width="4.8" height="4.8" fill="#fff" fill-opacity="0.6" stroke="#6a6a6a" stroke-width="1"/>
<line x1="439" y1="466.7" x2="501.2" y2="466.7" stroke="#555" stroke-width="1.3"/>
<rect x="437.0" y="466.3" width="4.8" height="4.8" fill="#fff" fill-opacity="0.6" stroke="#6a6a6a" stroke-width="1"/>
<rect x="447.1" y="461.7" width="4.8" height="4.8" fill="#fff" fill-opacity="0.6" stroke="#6a6a6a" stroke-width="1"/>
<rect x="457.1" y="468.7" width="4.8" height="4.8" fill="#fff" fill-opacity="0.6" stroke="#6a6a6a" stroke-width="1"/>
<rect x="467.1" y="468.5" width="4.8" height="4.8" fill="#fff" fill-opacity="0.6" stroke="#6a6a6a" stroke-width="1"/>
<rect x="476.7" y="463.3" width="4.8" height="4.8" fill="#fff" fill-opacity="0.6" stroke="#6a6a6a" stroke-width="1"/>
<rect x="486.7" y="459.7" width="4.8" height="4.8" fill="#fff" fill-opacity="0.6" stroke="#6a6a6a" stroke-width="1"/>
<rect x="496.8" y="467.3" width="4.8" height="4.8" fill="#fff" fill-opacity="0.6" stroke="#6a6a6a" stroke-width="1"/>
<line x1="40" y1="327.0" x2="101.4" y2="327.0" stroke="#1473bd" stroke-width="1.6"/>
<path d="M40.1 323.6L44.7 328.2M40.1 328.2L44.7 323.6" stroke="#1473bd" stroke-width="1.25" fill="none"/>
<path d="M49.6 323.6L54.2 328.2M49.6 328.2L54.2 323.6" stroke="#1473bd" stroke-width="1.25" fill="none"/>
<path d="M59.6 324.1L64.2 328.7M59.6 328.7L64.2 324.1" stroke="#1473bd" stroke-width="1.25" fill="none"/>
<path d="M69.6 326.5L74.2 331.1M69.6 331.1L74.2 326.5" stroke="#1473bd" stroke-width="1.25" fill="none"/>
<path d="M79.6 319.2L84.2 323.8M79.6 323.8L84.2 319.2" stroke="#1473bd" stroke-width="1.25" fill="none"/>
<path d="M89.6 326.3L94.2 330.9M89.6 330.9L94.2 326.3" stroke="#1473bd" stroke-width="1.25" fill="none"/>
<path d="M99.1 329.0L103.7 333.6M99.1 333.6L103.7 329.0" stroke="#1473bd" stroke-width="1.25" fill="none"/>
<line x1="123" y1="425.1" x2="185.2" y2="425.1" stroke="#1473bd" stroke-width="1.6"/>
<path d="M122.1 424.4L126.7 429.0M122.1 429.0L126.7 424.4" stroke="#1473bd" stroke-width="1.25" fill="none"/>
<path d="M132.2 424.4L136.8 429.0M132.2 429.0L136.8 424.4" stroke="#1473bd" stroke-width="1.25" fill="none"/>
<path d="M142.2 422.3L146.8 426.9M142.2 426.9L146.8 422.3" stroke="#1473bd" stroke-width="1.25" fill="none"/>
<path d="M151.8 424.0L156.4 428.6M151.8 428.6L156.4 424.0" stroke="#1473bd" stroke-width="1.25" fill="none"/>
<path d="M161.8 422.3L166.4 426.9M161.8 426.9L166.4 422.3" stroke="#1473bd" stroke-width="1.25" fill="none"/>
<path d="M171.8 418.7L176.4 423.3M171.8 423.3L176.4 418.7" stroke="#1473bd" stroke-width="1.25" fill="none"/>
<path d="M181.5 421.3L186.1 425.9M181.5 425.9L186.1 421.3" stroke="#1473bd" stroke-width="1.25" fill="none"/>
<line x1="199" y1="454.5" x2="260.2" y2="454.5" stroke="#1473bd" stroke-width="1.6"/>
<path d="M198.1 451.4L202.7 456.0M198.1 456.0L202.7 451.4" stroke="#1473bd" stroke-width="1.25" fill="none"/>
<path d="M207.8 452.8L212.4 457.4M207.8 457.4L212.4 452.8" stroke="#1473bd" stroke-width="1.25" fill="none"/>
<path d="M217.8 451.4L222.4 456.0M217.8 456.0L222.4 451.4" stroke="#1473bd" stroke-width="1.25" fill="none"/>
<path d="M227.8 453.2L232.4 457.8M227.8 457.8L232.4 453.2" stroke="#1473bd" stroke-width="1.25" fill="none"/>
<path d="M237.8 454.8L242.4 459.4M237.8 459.4L242.4 454.8" stroke="#1473bd" stroke-width="1.25" fill="none"/>
<path d="M247.4 452.2L252.0 456.8M247.4 456.8L252.0 452.2" stroke="#1473bd" stroke-width="1.25" fill="none"/>
<path d="M257.5 453.4L262.1 458.0M257.5 458.0L262.1 453.4" stroke="#1473bd" stroke-width="1.25" fill="none"/>
<line x1="278.6" y1="444.5" x2="342.2" y2="444.5" stroke="#1473bd" stroke-width="1.6"/>
<path d="M278.7 442.2L283.3 446.8M278.7 446.8L283.3 442.2" stroke="#1473bd" stroke-width="1.25" fill="none"/>
<path d="M288.4 441.4L293.0 446.0M288.4 446.0L293.0 441.4" stroke="#1473bd" stroke-width="1.25" fill="none"/>
<path d="M298.4 442.8L303.0 447.4M298.4 447.4L303.0 442.8" stroke="#1473bd" stroke-width="1.25" fill="none"/>
<path d="M308.2 442.6L312.8 447.2M308.2 447.2L312.8 442.6" stroke="#1473bd" stroke-width="1.25" fill="none"/>
<path d="M318.2 443.4L322.8 448.0M318.2 448.0L322.8 443.4" stroke="#1473bd" stroke-width="1.25" fill="none"/>
<path d="M327.8 440.4L332.4 445.0M327.8 445.0L332.4 440.4" stroke="#1473bd" stroke-width="1.25" fill="none"/>
<path d="M337.9 442.6L342.5 447.2M337.9 447.2L342.5 442.6" stroke="#1473bd" stroke-width="1.25" fill="none"/>
<line x1="358.6" y1="443.3" x2="420.8" y2="443.3" stroke="#1473bd" stroke-width="1.6"/>
<path d="M357.1 445.2L361.7 449.8M357.1 449.8L361.7 445.2" stroke="#1473bd" stroke-width="1.25" fill="none"/>
<path d="M366.7 441.2L371.3 445.8M366.7 445.8L371.3 441.2" stroke="#1473bd" stroke-width="1.25" fill="none"/>
<path d="M377.2 437.8L381.8 442.4M377.2 442.4L381.8 437.8" stroke="#1473bd" stroke-width="1.25" fill="none"/>
<path d="M386.8 442.2L391.4 446.8M386.8 446.8L391.4 442.2" stroke="#1473bd" stroke-width="1.25" fill="none"/>
<path d="M396.8 440.2L401.4 444.8M396.8 444.8L401.4 440.2" stroke="#1473bd" stroke-width="1.25" fill="none"/>
<path d="M406.4 440.2L411.0 444.8M406.4 444.8L411.0 440.2" stroke="#1473bd" stroke-width="1.25" fill="none"/>
<path d="M416.4 441.8L421.0 446.4M416.4 446.4L421.0 441.8" stroke="#1473bd" stroke-width="1.25" fill="none"/>
<line x1="439" y1="454.5" x2="501.2" y2="454.5" stroke="#1473bd" stroke-width="1.6"/>
<path d="M437.1 460.2L441.7 464.8M437.1 464.8L441.7 460.2" stroke="#1473bd" stroke-width="1.25" fill="none"/>
<path d="M447.2 451.8L451.8 456.4M447.2 456.4L451.8 451.8" stroke="#1473bd" stroke-width="1.25" fill="none"/>
<path d="M457.2 454.8L461.8 459.4M457.2 459.4L461.8 454.8" stroke="#1473bd" stroke-width="1.25" fill="none"/>
<path d="M466.8 450.8L471.4 455.4M466.8 455.4L471.4 450.8" stroke="#1473bd" stroke-width="1.25" fill="none"/>
<path d="M476.8 451.2L481.4 455.8M476.8 455.8L481.4 451.2" stroke="#1473bd" stroke-width="1.25" fill="none"/>
<path d="M486.4 449.2L491.0 453.8M486.4 453.8L491.0 449.2" stroke="#1473bd" stroke-width="1.25" fill="none"/>
<path d="M496.9 451.2L501.5 455.8M496.9 455.8L501.5 451.2" stroke="#1473bd" stroke-width="1.25" fill="none"/>
<line x1="105.5" y1="328" x2="120.6" y2="420.6" stroke="#1473bd" stroke-width="1"/>
<line x1="121.6" y1="417.1" x2="120.6" y2="420.6" stroke="#1473bd" stroke-width="1"/>
<line x1="118.5" y1="417.7" x2="120.6" y2="420.6" stroke="#1473bd" stroke-width="1"/>
<line x1="183.2" y1="427" x2="197.3" y2="451.7" stroke="#1473bd" stroke-width="1"/>
<line x1="197.1" y1="448.1" x2="197.3" y2="451.7" stroke="#1473bd" stroke-width="1"/>
<line x1="194.3" y1="449.7" x2="197.3" y2="451.7" stroke="#1473bd" stroke-width="1"/>
<line x1="260.2" y1="455.1" x2="276.2" y2="446.2" stroke="#1473bd" stroke-width="1"/>
<line x1="272.6" y1="446.4" x2="276.2" y2="446.2" stroke="#1473bd" stroke-width="1"/>
<line x1="274.1" y1="449.1" x2="276.2" y2="446.2" stroke="#1473bd" stroke-width="1"/>
<line x1="344.2" y1="443.7" x2="356.2" y2="443.1" stroke="#1473bd" stroke-width="1"/>
<line x1="352.9" y1="441.7" x2="356.2" y2="443.1" stroke="#1473bd" stroke-width="1"/>
<line x1="353.0" y1="444.8" x2="356.2" y2="443.1" stroke="#1473bd" stroke-width="1"/>
<line x1="422.2" y1="444.5" x2="435.6" y2="451.7" stroke="#1473bd" stroke-width="1"/>
<line x1="433.5" y1="448.8" x2="435.6" y2="451.7" stroke="#1473bd" stroke-width="1"/>
<line x1="432.0" y1="451.5" x2="435.6" y2="451.7" stroke="#1473bd" stroke-width="1"/>
<rect x="101.2" y="366" width="31.6" height="15.5" fill="#fff"/>
<text x="117.0" y="377.5" font-size="10.5" text-anchor="middle" textLength="28.6" lengthAdjust="spacingAndGlyphs" class="bl" fill="#1473bd">-21.9%</text>
<rect x="183.5" y="366" width="26.2" height="15.5" fill="#fff"/>
<text x="196.6" y="377.5" font-size="10.5" text-anchor="middle" textLength="23.2" lengthAdjust="spacingAndGlyphs" class="bl" fill="#1473bd">-7.1%</text>
<rect x="260.3" y="366" width="29.4" height="15.5" fill="#fff"/>
<text x="275" y="377.5" font-size="10.5" text-anchor="middle" textLength="26.4" lengthAdjust="spacingAndGlyphs" class="bl" fill="#1473bd">+2.5%</text>
<rect x="340.3" y="366" width="29.0" height="15.5" fill="#fff"/>
<text x="354.8" y="377.5" font-size="10.5" text-anchor="middle" textLength="26" lengthAdjust="spacingAndGlyphs" class="bl" fill="#1473bd">+0.5%</text>
<rect x="419.5" y="366" width="27.3" height="15.5" fill="#fff"/>
<text x="433.1" y="377.5" font-size="10.5" text-anchor="middle" textLength="24.3" lengthAdjust="spacingAndGlyphs" class="bl" fill="#1473bd">-2.3%</text>
<path d="M365.0 296.3L369.6 300.9M365.0 300.9L369.6 296.3" stroke="#1473bd" stroke-width="1.25" fill="none"/>
<text x="373.1" y="301.4" font-size="9.8" textLength="28.4" lengthAdjust="spacingAndGlyphs">Sensor</text>
<rect x="365.1" y="314.8" width="4.5" height="4.6" fill="#fff" stroke="#555" stroke-width="1"/>
<text x="372.8" y="319.8" font-size="9.8" textLength="42.6" lengthAdjust="spacingAndGlyphs">Reference</text>
</g>
</svg></body></html>
